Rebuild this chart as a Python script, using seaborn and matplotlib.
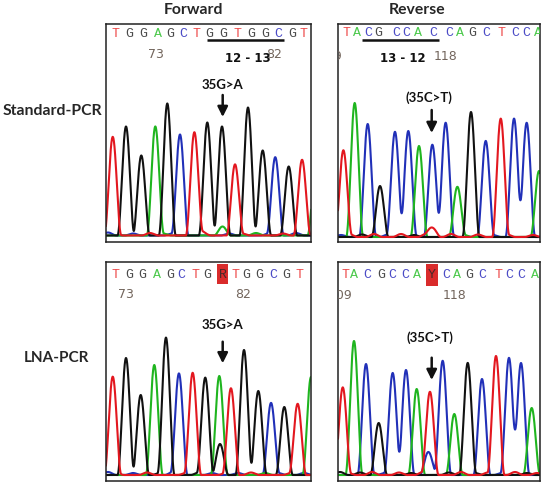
import numpy as np
import pandas as pd
import matplotlib
matplotlib.use("Agg")
import matplotlib.pyplot as plt
import seaborn as sns
from matplotlib.patches import Rectangle

sns.set_theme(style="white")
plt.rcParams["font.family"] = ["DejaVu Sans"]

# ------------------------------------------------------------------ data
# Each panel: called bases (letters), main peaks (scan position, height, base),
# minor (secondary) peaks, and small baseline bumps.

# Forward / Standard-PCR
fs_letters = list("TGGAGCTGGTGGCGT")
fs_peak_pos = [6.7, 20, 35.3, 49.3, 61.3, 74, 88.3, 101.3, 116, 129, 142, 156.7, 169.3, 182.7, 196, 210]
fs_peak_h = [97, 109, 80, 109, 132, 101, 102, 113, 109, 71, 128, 85, 78, 69, 75, 68]
fs_peak_base = list("TGGAGCTGGTGGCGTA")
fs_minor_pos = [116.5]
fs_minor_h = [9]
fs_minor_base = ["A"]
fs_noise_pos = [2, 9, 27, 44, 57, 66, 93, 97, 123, 136, 150, 163, 177, 190, 201]
fs_noise_h = [3, 2, 2, 2.5, 2, 2, 3, 2.5, 2, 2, 2.5, 2, 2, 2.5, 2]
fs_noise_base = list("CTCTACTTCTACTCT")

# Reverse / Standard-PCR
rs_letters = list("TACGCCACCAGCTCCA")
rs_peak_pos = [5.3, 16.7, 29.7, 42, 57, 70.3, 81, 94.3, 107.7, 119.3, 133, 147.7, 162.7, 176, 188.7, 201]
rs_peak_h = [86, 134, 113, 51, 105, 106, 91, 92, 114, 50, 125, 96, 118, 118, 114, 66]
rs_peak_base = list("TACGCCACCAGCTCCA")
rs_minor_pos = [94.5]
rs_minor_h = [9]
rs_minor_base = ["T"]
rs_noise_pos = [3, 11, 24, 36, 50, 63, 76, 88, 101, 113, 126, 140, 155, 169, 182, 195]
rs_noise_h = [2, 3, 2.5, 3, 2.5, 3, 2, 3, 2.5, 3, 2, 2.5, 2, 2.5, 2, 2]
rs_noise_base = list("CTGTCTGTCTATCTCT")

# Forward / LNA-PCR
fl_letters = list("TGGAGCTGRTGGCGT")
fl_peak_pos = [6.7, 20, 34.7, 48.3, 60, 73, 86.7, 99.3, 113.3, 125, 138, 152.3, 165, 178.3, 191.7, 205]
fl_peak_h = [97, 117, 80, 110, 137, 101, 102, 97, 99, 86, 125, 84, 72, 68, 71, 98]
fl_peak_base = list("TGGAGCTGATGGCGTA")
fl_minor_pos = [114]
fl_minor_h = [31]
fl_minor_base = ["G"]
fl_noise_pos = [2, 10, 27, 41, 54, 67, 80, 93, 106, 120, 132, 145, 159, 172, 185, 198]
fl_noise_h = [3, 2, 2, 2.5, 2, 3, 2, 2.5, 2, 2, 2, 2.5, 2, 2, 2, 2]
fl_noise_base = list("CTCTGCTGCTCTACTC")

# Reverse / LNA-PCR
rl_letters = list("TACGCCAYCAGCTCCA")
rl_peak_pos = [4.7, 16, 28, 40.7, 54.7, 68, 78.7, 92, 104.7, 116.3, 129.7, 144, 158, 171, 183, 193.7]
rl_peak_h = [87, 134, 111, 52, 102, 105, 86, 83, 114, 61, 112, 96, 119, 117, 112, 67]
rl_peak_base = list("TACGCCATCAGCTCCA")
rl_minor_pos = [90.3]
rl_minor_h = [23]
rl_minor_base = ["C"]
rl_noise_pos = [2, 10, 22, 34, 47, 61, 73, 85, 98, 111, 123, 137, 150, 164, 177, 189, 199]
rl_noise_h = [3, 2, 2.5, 3, 2, 2.5, 2, 3, 2, 2.5, 3, 2, 2.5, 2, 3, 2, 2]
rl_noise_base = list("GTGTCTGTCGTGTCTGT")

# ------------------------------------------------------------------ style
W, H = 542, 482
trace_pal = {"A": "#1fb51f", "C": "#2130b8", "G": "#111111", "T": "#e3171f"}
letter_pal = {"A": "#4cc94c", "C": "#4b4bc6", "G": "#4a4a4a", "T": "#ee4a4a",
              "R": "#4a2828", "Y": "#4a2828"}
num_color = "#72655c"
HALF_W = 8.5

panels = {
    "fs": dict(left=106, right=311, top=24, bottom=242, base=235.5),
    "rs": dict(left=338, right=540, top=24, bottom=242, base=237.0),
    "fl": dict(left=106, right=311, top=262, bottom=481, base=475.0),
    "rl": dict(left=338, right=540, top=262, bottom=481, base=475.0),
}


def peak_table(pos, h, base, grid):
    rows = []
    for b in ["C", "A", "G", "T"]:
        sig = np.zeros_like(grid)
        for p, hh, bb in zip(pos, h, base):
            if bb != b:
                continue
            d = np.abs(grid - p)
            sig += np.where(d < HALF_W, hh * np.cos(np.pi * d / (2 * HALF_W)) ** 2, 0.0)
        rows.append(pd.DataFrame({"scan": grid, "signal": sig, "base": b}))
    return pd.concat(rows, ignore_index=True)


fig = plt.figure(figsize=(W / 100, H / 100), dpi=100)
fig.patch.set_facecolor("white")

axes = {}
for key, p in panels.items():
    ax = fig.add_axes([p["left"] / W, 1 - p["bottom"] / H,
                       (p["right"] - p["left"]) / W, (p["bottom"] - p["top"]) / H])
    ax.set_xlim(0, p["right"] - p["left"])
    ax.set_ylim(p["base"] - p["bottom"], p["base"] - p["top"])
    ax.set_xticks([])
    ax.set_yticks([])
    for s in ax.spines.values():
        s.set_color("#222222")
        s.set_linewidth(1.1)
    axes[key] = ax

datasets = {
    "fs": (fs_peak_pos, fs_peak_h, fs_peak_base, fs_minor_pos, fs_minor_h, fs_minor_base,
           fs_noise_pos, fs_noise_h, fs_noise_base),
    "rs": (rs_peak_pos, rs_peak_h, rs_peak_base, rs_minor_pos, rs_minor_h, rs_minor_base,
           rs_noise_pos, rs_noise_h, rs_noise_base),
    "fl": (fl_peak_pos, fl_peak_h, fl_peak_base, fl_minor_pos, fl_minor_h, fl_minor_base,
           fl_noise_pos, fl_noise_h, fl_noise_base),
    "rl": (rl_peak_pos, rl_peak_h, rl_peak_base, rl_minor_pos, rl_minor_h, rl_minor_base,
           rl_noise_pos, rl_noise_h, rl_noise_base),
}

for key, d in datasets.items():
    ax = axes[key]
    p = panels[key]
    grid = np.linspace(-10, p["right"] - p["left"] + 10, 2000)
    pos = list(d[0]) + list(d[3]) + list(d[6])
    hh = list(d[1]) + list(d[4]) + list(d[7])
    bb = list(d[2]) + list(d[5]) + list(d[8])
    df = peak_table(pos, hh, bb, grid)
    sns.lineplot(data=df, x="scan", y="signal", hue="base", hue_order=["C", "A", "G", "T"],
                 palette=trace_pal, linewidth=1.5, legend=False, estimator=None,
                 sort=False, ax=ax)
    ax.set_xlabel("")
    ax.set_ylabel("")


def P(key, px, py):
    p = panels[key]
    return px - p["left"], p["base"] - py


mono = "Liberation Mono"

letter_x = {
    "fs": [115, 129, 143, 158, 170, 183, 196, 209, 223, 237, 251, 265, 278, 292, 303],
    "rs": [346.7, 357.3, 368, 378.5, 396, 406.7, 418.3, 433, 449, 460, 472.7, 486.7, 501.5, 515, 526.7, 538.3],
    "fl": [115, 129.3, 142.7, 157.3, 170, 181.5, 195, 207.3, 222.5, 235, 246.7, 259.3, 273.3, 286.7, 299.3],
    "rl": [345, 354.3, 367.7, 381, 392.7, 405, 416.7, 432, 446, 457.3, 469.3, 482.7, 498.3, 509.3, 521.7, 535],
}
letter_y = {"fs": 34, "rs": 33.5, "fl": 275, "rl": 275.5}
letters = {"fs": fs_letters, "rs": rs_letters, "fl": fl_letters, "rl": rl_letters}

# red highlight boxes for ambiguous calls
for key, (x0, x1, y0, y1) in {"fl": (216.7, 228.3, 264.3, 284.3),
                              "rl": (426.0, 438.3, 264.3, 285.7)}.items():
    ax = axes[key]
    a = P(key, x0, y1)
    ax.add_patch(Rectangle(a, x1 - x0, y1 - y0, facecolor="#d92b2b", edgecolor="none", zorder=3))

for key in letters:
    ax = axes[key]
    for ch, x in zip(letters[key], letter_x[key]):
        ax.text(*P(key, x, letter_y[key]), ch, fontsize=9.5, family=mono,
                color=letter_pal[ch], ha="center", va="center", zorder=6, clip_on=True)

# position numbers
nums = [("fs", "73", 155.5, 54.3, "center"), ("fs", "82", 274.5, 55, "center"),
        ("rs", "109", 342.5, 56.3, "right"), ("rs", "118", 446, 56.3, "center"),
        ("fl", "73", 125.5, 294.5, "center"), ("fl", "82", 242.7, 294.5, "center"),
        ("rl", "109", 352.5, 295.5, "right"), ("rl", "118", 455, 295.5, "center")]
for key, t, x, y, ha in nums:
    axes[key].text(*P(key, x, y), t, fontsize=9, color=num_color, ha=ha, va="center",
                   zorder=4, clip_on=True)

# codon underline + labels
for key, x0, x1, lab, xc in [("fs", 207, 284, "12 - 13", 248.3), ("rs", 361.7, 439.3, "13 - 12", 403.3)]:
    ax = axes[key]
    ax.plot([P(key, x0, 40)[0], P(key, x1, 40)[0]], [P(key, x0, 40)[1]] * 2,
            color="#111111", lw=1.8, solid_capstyle="butt", zorder=5)
    ax.text(*P(key, xc, 58), lab, fontsize=8.5, fontweight="bold", color="#111111",
            ha="center", va="center", zorder=5)

# mutation labels + arrows
muts = [("fs", "35G>A", 222.5, 85, 222.7, 95, 117),
        ("fl", "35G>A", 222.8, 325, 222.7, 341.7, 363.3),
        ("rs", "(35C>T)", 429.2, 97.5, 431.7, 110, 133),
        ("rl", "(35C>T)", 429.5, 337.8, 431.7, 357.7, 380)]
for key, lab, xc, yc, xa, ya0, ya1 in muts:
    ax = axes[key]
    ax.text(*P(key, xc, yc), lab, fontsize=9.5, fontweight="bold", family="Lato",
            color="#111111", ha="center", va="center", zorder=5)
    ax.annotate("", xy=P(key, xa, ya1), xytext=P(key, xa, ya0),
                arrowprops=dict(arrowstyle="-|>,head_length=0.5,head_width=0.25",
                                color="#111111", lw=1.8, shrinkA=0, shrinkB=0),
                zorder=5)

# headers and row labels
for txt, x, y, fs in [("Forward", 193.7, 10, 11.3), ("Reverse", 416.7, 10, 11.3),
                      ("Standard-PCR", 52.5, 110.8, 11.3), ("LNA-PCR", 56.7, 357.5, 11.0)]:
    fig.text(x / W, 1 - y / H, txt, fontsize=fs, fontweight="bold", family="Lato",
             ha="center", va="center")

fig.savefig("out.png", dpi=100, facecolor="white")
